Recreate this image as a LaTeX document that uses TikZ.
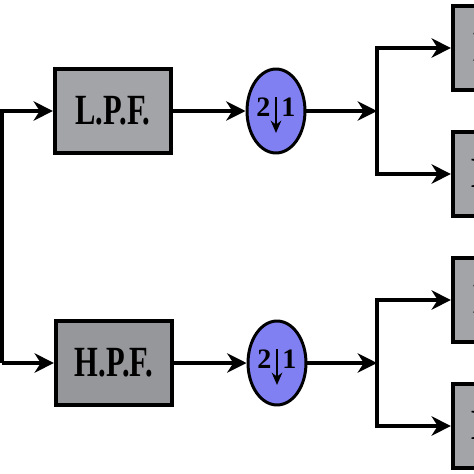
\documentclass[tikz,border=0pt]{standalone}
\usepackage{tkz-euclide}
\usetikzlibrary{positioning}
\usetikzlibrary{arrows.meta}
\usetikzlibrary{shapes.geometric}
\usepackage{fontspec}
\setmainfont{Liberation Serif}
\newfontfamily\labelfont{Liberation Serif}

\definecolor{filtgray}{RGB}{163,164,168}
\definecolor{filtdark}{RGB}{150,151,154}
\definecolor{dsblue}{RGB}{128,128,242}
\newcommand{\squeezed}[1]{\scalebox{0.71}[1]{\bfseries #1}}
\newcommand{\twoone}{\raisebox{-2.9pt}[0pt][0pt]{\bfseries 2\hspace{0.22cm}1}}

\begin{document}
\begin{tikzpicture}[
  x=0.02cm, y=-0.02cm,
  line/.style = {line width=1.9pt},
  filt/.style = {draw, line width=2.1pt, fill=filtgray,
    minimum width=2.33cm, minimum height=1.67cm,
    font=\labelfont\fontsize{24.5}{27}\selectfont},
  down/.style = {ellipse, draw, line width=1.7pt, fill=dsblue,
    minimum width=1.16cm, minimum height=1.68cm, inner sep=0pt,
    font=\labelfont\fontsize{16}{18}\selectfont},
  tick/.style = {line width=1.5pt, -{Stealth[length=7pt,width=6pt]}},
  >={Stealth[length=11pt,width=11pt,inset=3.5pt]}
]

  \useasboundingbox (0,0) rectangle (474,474);
  \clip (0,0) rectangle (474,474);

  \tkzDefPoint(-10,111){in}
  \tkzDefPoint(2,111){S1}
  \tkzDefPoint(2,363){S2}
  \tkzDefPoint(377,111){J1}
  \tkzDefPoint(377,363){J2}

  \node[filt] (lpf) at (113,111) {\squeezed{L.P.F.}};
  \node[filt,fill=filtdark] (hpf) at (114,363) {\squeezed{H.P.F.}};
  \node[down] (ds1) at (276,111) {\twoone};
  \node[down] (ds2) at (277,363) {\twoone};
  \draw[tick] ([yshift=7.9pt]ds1.center) -- ([yshift=-12.5pt]ds1.center);
  \draw[tick] ([yshift=7.9pt]ds2.center) -- ([yshift=-12.5pt]ds2.center);

  \node[filt] (lpf1) at (511,48)  {\squeezed{L.P.F.}};
  \node[filt] (hpf1) at (511,174) {\squeezed{H.P.F.}};
  \node[filt] (lpf2) at (511,300) {\squeezed{L.P.F.}};
  \node[filt] (hpf2) at (511,426) {\squeezed{H.P.F.}};

  \draw[line] (in) -- (S1);
  \draw[line] (S1) -- (S2);
  \draw[line,->] (S1) -- (lpf);
  \draw[line,->] (S2) -- (hpf);
  \draw[line,->] (lpf) -- (ds1);
  \draw[line,->] (hpf) -- (ds2);
  \draw[line,->] (ds1) -- (J1);
  \draw[line,->] (ds2) -- (J2);

  \draw[line,->] (J1) |- (lpf1.west);
  \draw[line,->] (J1) |- (hpf1.west);
  \draw[line,->] (J2) |- (lpf2.west);
  \draw[line,->] (J2) |- (hpf2.west);

\end{tikzpicture}
\end{document}
